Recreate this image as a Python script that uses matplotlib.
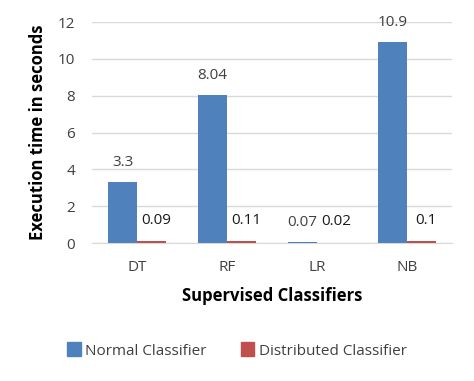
import matplotlib
matplotlib.use("Agg")
import matplotlib.pyplot as plt
import numpy as np
from matplotlib.patches import Patch

categories = ["DT", "RF", "LR", "NB"]
normal = [3.3, 8.04, 0.07, 10.9]
distributed = [0.09, 0.11, 0.02, 0.1]
normal_labels = ["3.3", "8.04", "0.07", "10.9"]
dist_labels = ["0.09", "0.11", "0.02", "0.1"]

plt.rcParams['font.family'] = ['Open Sans', 'DejaVu Sans']

blue = "#4F81BD"
red = "#C0504D"
txt = "#404040"

fig = plt.figure(figsize=(4.74, 3.81), dpi=100)
ax = fig.add_axes([0.194, 0.362, 0.76, 0.58])

x = np.arange(len(categories))
w = 0.32
b1 = ax.bar(x - w/2, normal, w, color=blue, zorder=3)
b2 = ax.bar(x + w/2, distributed, w, color=red, zorder=3)

for xi, v, s in zip(x, normal, normal_labels):
    ax.annotate(s, (xi - w/2, v), xytext=(0, 14), textcoords="offset points",
                ha="center", va="center", fontsize=11, color=txt)
for xi, v, s in zip(x, distributed, dist_labels):
    ax.annotate(s, (xi + w/2 + 0.05, v), xytext=(0, 15), textcoords="offset points",
                ha="center", va="center", fontsize=11, color="#1a1a1a")

ax.set_ylim(0, 12)
ax.set_xlim(-0.5, len(categories) - 0.5)
ax.set_yticks(range(0, 13, 2))
ax.set_xticks(x)
ax.set_xticklabels(categories)
ax.tick_params(axis='both', length=0, labelsize=11, colors=txt)
ax.tick_params(axis='x', pad=12)
ax.tick_params(axis='y', pad=12)
ax.grid(axis='y', color="#D9D9D9", linewidth=1, zorder=0)
for s in ["top", "right", "left"]:
    ax.spines[s].set_visible(False)
ax.spines["bottom"].set_color("#D9D9D9")

ax.set_ylabel("Execution time in seconds", fontsize=12, fontweight="bold", color="black", labelpad=8)
ax.set_xlabel("Supervised Classifiers", fontsize=12, fontweight="bold", color="black", labelpad=9)

handles = [Patch(color=blue, label="Normal Classifier"), Patch(color=red, label="Distributed Classifier")]
fig.legend(handles=handles, loc="center", bbox_to_anchor=(0.5, 0.08), ncol=2, frameon=False,
           fontsize=11, labelcolor=txt, handlelength=0.9, handleheight=1.0,
           handletextpad=0.3, columnspacing=2.2)

fig.savefig("out.png", dpi=100)
